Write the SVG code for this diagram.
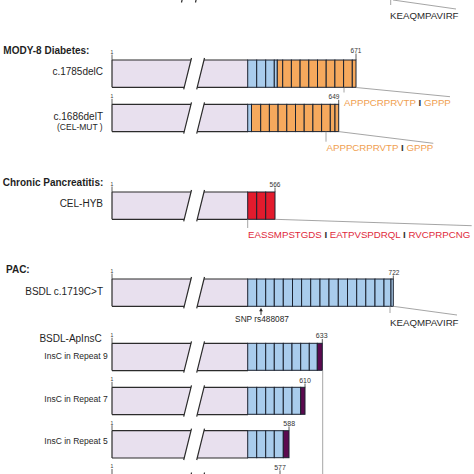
<svg xmlns="http://www.w3.org/2000/svg" width="474" height="474" viewBox="0 0 474 474">
<style>
text{font-family:"Liberation Sans",Arial,Helvetica,sans-serif;fill:#1f1f1f}
.h{font-weight:bold;font-size:10px}
.lb{font-size:10px;text-anchor:end}
.sm{font-size:8.5px;text-anchor:end}
.num{font-size:6.5px;text-anchor:middle;fill:#333}
.one{font-size:5px;text-anchor:middle;fill:#333}
.seq{font-size:9.7px}
.sep{fill:#333;font-weight:bold}
.lav{fill:#E8E0EE;stroke:none}
.ol{stroke:#2b2b2b;stroke-width:1.2;fill:none}
.bl rect{fill:#A9CCEC;stroke:#1b2230;stroke-width:1}
.or rect{fill:#F6A95D;stroke:#1b2230;stroke-width:1}
.rd rect{fill:#E31B2D;stroke:#1b2230;stroke-width:1}
.pu{fill:#5C0A4F;stroke:#1b2230;stroke-width:1}
.ex{stroke:#8e8e8e;stroke-width:0.8;fill:none}
.tk{stroke:#333;stroke-width:0.8}
</style>
<defs>
<g id="trunk">
<polygon class="lav" points="112,0 191,0 184.2,27.3 112,27.3"/>
<polygon class="lav" points="204,0 248,0 248,27.3 197.2,27.3"/>
<path class="ol" d="M112,0H191M112,27.3H184.2M112,0V27.3M204,0H248M197.2,27.3H248"/>
<path class="ol" d="M191.5,-2L183.7,29.3M204.5,-2L196.7,29.3"/>
<line class="tk" x1="112" y1="-5.5" x2="112" y2="0"/>
<text class="one" x="112" y="-6">1</text>
</g>
</defs>

<!-- top partial row (cut off) -->
<g id="top-partial">
<path class="ol" d="M182.5,-2L181.5,2.5M196.5,-2L195.5,2.5"/>
<path class="ex" d="M390.7,0V5M393,0L456,9"/>
<text class="seq" x="390" y="19" style="fill:#2a2a2a">KEAQMPAVIRF</text>
</g>

<text class="h" x="3.3" y="54">MODY-8 Diabetes:</text>
<text class="h" x="2.7" y="186">Chronic Pancreatitis:</text>
<text class="h" x="6" y="273">PAC:</text>

<!-- c.1785delC -->
<g id="c1785delC">
<text class="lb" x="103" y="75">c.1785delC</text>
<use href="#trunk" transform="translate(0,60)"/>
<g transform="translate(0,60)">
<g class="bl"><rect x="247.7" y="0" width="9" height="27.3"/><rect x="256.7" y="0" width="9" height="27.3"/><rect x="265.7" y="0" width="8.6" height="27.3"/><rect x="274.3" y="0" width="3" height="27.3"/></g>
<g class="or"><rect x="277.3" y="0" width="5.4" height="27.3"/><rect x="282.7" y="0" width="8.7" height="27.3"/><rect x="291.4" y="0" width="8.7" height="27.3"/><rect x="300.1" y="0" width="8.7" height="27.3"/><rect x="308.8" y="0" width="8.7" height="27.3"/><rect x="317.5" y="0" width="8.7" height="27.3"/><rect x="326.2" y="0" width="8.7" height="27.3"/><rect x="334.9" y="0" width="8.7" height="27.3"/><rect x="343.6" y="0" width="8.7" height="27.3"/><rect x="352.3" y="0" width="3.7" height="27.3"/></g>
<line class="tk" x1="356" y1="-6.5" x2="356" y2="0"/>
<text class="num" x="356" y="-7.5">671</text>
</g>
</g>

<!-- c.1686delT -->
<g id="c1686delT">
<text class="lb" x="103" y="120">c.1686delT</text>
<text class="sm" x="102.7" y="130">(CEL-MUT )</text>
<use href="#trunk" transform="translate(0,104.3)"/>
<g transform="translate(0,104.3)">
<g class="bl"><rect x="247.7" y="0" width="3.8" height="27.3"/></g>
<g class="or"><rect x="251.5" y="0" width="9.2" height="27.3"/><rect x="260.7" y="0" width="8.7" height="27.3"/><rect x="269.4" y="0" width="8.7" height="27.3"/><rect x="278.1" y="0" width="8.7" height="27.3"/><rect x="286.8" y="0" width="8.7" height="27.3"/><rect x="295.5" y="0" width="8.7" height="27.3"/><rect x="304.2" y="0" width="8.7" height="27.3"/><rect x="312.9" y="0" width="8.7" height="27.3"/><rect x="321.6" y="0" width="8.7" height="27.3"/><rect x="330.3" y="0" width="4.7" height="27.3"/><rect x="335" y="0" width="3.7" height="27.3"/></g>
<line class="tk" x1="338.7" y1="-4.5" x2="338.7" y2="0"/>
<text class="num" x="334" y="-5.5">649</text>
</g>
</g>

<!-- CEL-HYB -->
<g id="celhyb">
<text class="lb" x="103" y="207">CEL-HYB</text>
<use href="#trunk" transform="translate(0,192)"/>
<g transform="translate(0,192)">
<g class="rd"><rect x="247.7" y="0" width="9" height="27.3"/><rect x="256.7" y="0" width="9" height="27.3"/><rect x="265.7" y="0" width="9.3" height="27.3"/></g>
<line class="tk" x1="275" y1="-4.5" x2="275" y2="0"/>
<text class="num" x="275" y="-5.5">566</text>
</g>
</g>

<!-- BSDL c.1719C>T -->
<g id="bsdl1719">
<text class="lb" x="103" y="295">BSDL c.1719C&gt;T</text>
<use href="#trunk" transform="translate(0,279)"/>
<g transform="translate(0,279)">
<g class="bl"><rect x="247.7" y="0" width="9" height="27.3"/><rect x="256.7" y="0" width="9" height="27.3"/><rect x="265.7" y="0" width="8.6" height="27.3"/><rect x="274.3" y="0" width="9" height="27.3"/><rect x="283.3" y="0" width="9.2" height="27.3"/><rect x="292.5" y="0" width="9.1" height="27.3"/><rect x="301.6" y="0" width="9.1" height="27.3"/><rect x="310.7" y="0" width="9.3" height="27.3"/><rect x="320" y="0" width="9" height="27.3"/><rect x="329" y="0" width="9.3" height="27.3"/><rect x="338.3" y="0" width="9.2" height="27.3"/><rect x="347.5" y="0" width="9.2" height="27.3"/><rect x="356.7" y="0" width="9.1" height="27.3"/><rect x="365.8" y="0" width="9.2" height="27.3"/><rect x="375" y="0" width="9" height="27.3"/><rect x="384" y="0" width="7" height="27.3"/><rect x="391" y="0" width="2.3" height="27.3"/></g>
<line class="tk" x1="393.3" y1="-3.5" x2="393.3" y2="0"/>
<text class="num" x="394" y="-4.3">722</text>
</g>
</g>

<!-- SNP marker -->
<g id="snp">
<line class="tk" x1="261" y1="315" x2="261" y2="310" style="stroke-width:1"/>
<polygon points="261,307.8 259.2,311.2 262.8,311.2" fill="#222"/>
<text x="262" y="321.7" style="font-size:8.3px;text-anchor:middle">SNP rs488087</text>
</g>

<text class="lb" x="101.7" y="341.7">BSDL-ApInsC</text>

<!-- InsC in Repeat 9 -->
<g id="repeat9">
<text class="sm" x="107.7" y="359">InsC in Repeat 9</text>
<use href="#trunk" transform="translate(0,343.3)"/>
<g transform="translate(0,343.3)">
<g class="bl"><rect x="247.7" y="0" width="9" height="27"/><rect x="256.7" y="0" width="9" height="27"/><rect x="265.7" y="0" width="8.6" height="27"/><rect x="274.3" y="0" width="9" height="27"/><rect x="283.3" y="0" width="8.7" height="27"/><rect x="292" y="0" width="8.7" height="27"/><rect x="300.7" y="0" width="8.6" height="27"/><rect x="309.3" y="0" width="8" height="27"/></g>
<rect class="pu" x="317.3" y="0" width="5" height="27"/>
<line class="tk" x1="322.3" y1="-4.3" x2="322.3" y2="0"/>
<text class="num" x="321.7" y="-5.3" style="font-size:7px">633</text>
</g>
</g>

<!-- InsC in Repeat 7 -->
<g id="repeat7">
<text class="sm" x="107.7" y="402">InsC in Repeat 7</text>
<use href="#trunk" transform="translate(0,387.3)"/>
<g transform="translate(0,387.3)">
<g class="bl"><rect x="247.7" y="0" width="9" height="27"/><rect x="256.7" y="0" width="9" height="27"/><rect x="265.7" y="0" width="8.6" height="27"/><rect x="274.3" y="0" width="9" height="27"/><rect x="283.3" y="0" width="8.7" height="27"/><rect x="292" y="0" width="8.7" height="27"/></g>
<rect class="pu" x="300.7" y="0" width="4.3" height="27"/>
<line class="tk" x1="305" y1="-3.8" x2="305" y2="0"/>
<text class="num" x="305" y="-4.8" style="font-size:7px">610</text>
</g>
</g>

<!-- InsC in Repeat 5 -->
<g id="repeat5">
<text class="sm" x="107.7" y="444.3">InsC in Repeat 5</text>
<use href="#trunk" transform="translate(0,430.7)"/>
<g transform="translate(0,430.7)">
<g class="bl"><rect x="247.7" y="0" width="9" height="27"/><rect x="256.7" y="0" width="9" height="27"/><rect x="265.7" y="0" width="8.6" height="27"/><rect x="274.3" y="0" width="9" height="27"/></g>
<rect class="pu" x="283.3" y="0" width="5.7" height="27"/>
<line class="tk" x1="289" y1="-4.2" x2="289" y2="0"/>
<text class="num" x="289.2" y="-5" style="font-size:7px">588</text>
</g>
</g>

<!-- InsC in Repeat 3 (cut off) -->
<g id="repeat3">
<line class="tk" x1="112" y1="469" x2="112" y2="475"/>
<text class="one" x="112" y="468.3">1</text>
<path class="ol" d="M191.5,472.5L191.1,475M204.5,472.5L204.1,475"/>
<line class="tk" x1="280" y1="470.3" x2="280" y2="475"/>
<text class="num" x="280" y="469.5" style="font-size:7px">577</text>
</g>

<!-- connectors: expansion lines and sequences -->
<g id="connectors">
<path class="ex" d="M344,87.5V92.5M356,87.5L450,96.7"/>
<path class="ex" d="M326,131.6V141.7M338.7,131.6L433.3,143.3"/>
<path class="ex" d="M247.7,219.3V228M275,219.3L471.7,225.7"/>
<path class="ex" d="M390,306.3V313M393.3,306.3L457,315"/>
<path class="ex" d="M322.7,370.3V474"/>
</g>

<text class="seq" x="344" y="106" style="fill:#F0A050">APPPCRPRVTP <tspan class="sep">I</tspan> GPPP</text>
<text class="seq" x="326.5" y="151" style="fill:#F0A050">APPPCRPRVTP <tspan class="sep">I</tspan> GPPP</text>
<text class="seq" x="248" y="238.3" style="fill:#E0283A">EASSMPSTGDS <tspan class="sep">I</tspan> EATPVSPDRQL <tspan class="sep">I</tspan> RVCPRPCNG</text>
<text class="seq" x="390" y="326" style="fill:#2a2a2a">KEAQMPAVIRF</text>
</svg>
